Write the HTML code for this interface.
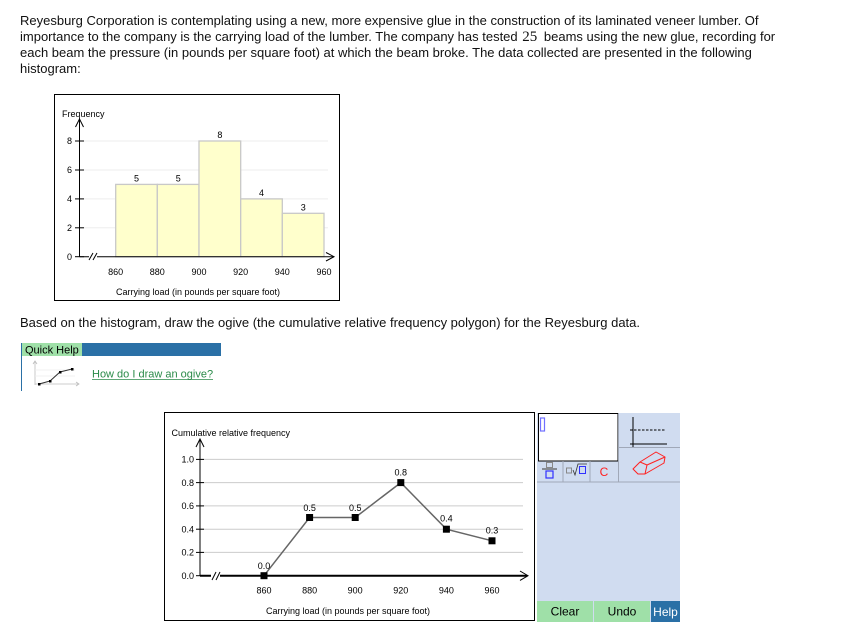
<!DOCTYPE html>
<html><head><meta charset="utf-8"><style>
html,body{margin:0;padding:0;background:#fff;}
body{width:845px;height:628px;position:relative;overflow:hidden;font-family:"Liberation Sans",Arial,sans-serif;}
.p{position:absolute;left:20px;font-size:13px;line-height:16px;color:#111;white-space:nowrap;}
svg{position:absolute;left:0;top:0;}
</style></head><body>
<div class="p" style="top:13px;">Reyesburg Corporation is contemplating using a new, more expensive glue in the construction of its laminated veneer lumber. Of<br>importance to the company is the carrying load of the lumber. The company has tested <span style="font-family:'Liberation Serif',serif;font-size:15px;padding:0 3px 0 1px;">25</span> beams using the new glue, recording for<br>each beam the pressure (in pounds per square foot) at which the beam broke. The data collected are presented in the following<br>histogram:</div>
<div class="p" style="top:315px;">Based on the histogram, draw the ogive (the cumulative relative frequency polygon) for the Reyesburg data.</div>

<svg width="845" height="628" viewBox="0 0 845 628" font-family="Liberation Sans, Arial, sans-serif">
<!-- Histogram -->
<rect x="54.5" y="94.5" width="285" height="206" fill="#fff" stroke="#000" stroke-width="1"/>
<g stroke="#eee" stroke-width="1">
<line x1="80" y1="227.8" x2="328" y2="227.8"/>
<line x1="80" y1="198.9" x2="328" y2="198.9"/>
<line x1="80" y1="170" x2="328" y2="170"/>
<line x1="80" y1="141" x2="328" y2="141"/>
</g>
<g fill="#ffffcc" stroke="#c8c8c8" stroke-width="1.3">
<rect x="115.7" y="184.4" width="41.6" height="72.3"/>
<rect x="157.3" y="184.4" width="41.7" height="72.3"/>
<rect x="199" y="141" width="41.7" height="115.7"/>
<rect x="240.7" y="198.9" width="41.6" height="57.8"/>
<rect x="282.3" y="213.3" width="41.7" height="43.4"/>
</g>
<g stroke="#000" stroke-width="1" fill="none">
<line x1="79.5" y1="119" x2="79.5" y2="257"/>
<polyline points="75.5,127 79.5,119 83.5,127"/>
<line x1="79.5" y1="256.7" x2="334" y2="256.7"/>
<polyline points="326,252.5 334,256.7 326,261"/>
<line x1="75" y1="256.7" x2="84" y2="256.7"/>
<line x1="75" y1="227.8" x2="84" y2="227.8"/>
<line x1="75" y1="198.9" x2="84" y2="198.9"/>
<line x1="75" y1="170" x2="84" y2="170"/>
<line x1="75" y1="141" x2="84" y2="141"/>
</g>
<rect x="89" y="253" width="8" height="7" fill="#fff"/>
<g stroke="#000" stroke-width="1"><line x1="89" y1="260" x2="93" y2="253"/><line x1="93" y1="260" x2="97" y2="253"/></g>
<g font-size="9" fill="#000">
<text x="62" y="117">Frequency</text>
<g text-anchor="end"><text x="72" y="260">0</text><text x="72" y="231">2</text><text x="72" y="202">4</text><text x="72" y="173">6</text><text x="72" y="144">8</text></g>
<g text-anchor="middle">
<text x="136.5" y="181.5">5</text><text x="178.2" y="181.5">5</text><text x="219.9" y="138">8</text><text x="261.5" y="196">4</text><text x="303.2" y="210.5">3</text>
<text x="115.7" y="275">860</text><text x="157.3" y="275">880</text><text x="199" y="275">900</text><text x="240.7" y="275">920</text><text x="282.3" y="275">940</text><text x="324" y="275">960</text>
<text x="198" y="295">Carrying load (in pounds per square foot)</text>
</g>
</g>

<!-- Quick help -->
<line x1="21.5" y1="343" x2="21.5" y2="391" stroke="#2a70a6" stroke-width="1"/>
<rect x="22" y="343" width="60" height="13" fill="#9fe0a8"/>
<rect x="82" y="343" width="139" height="13" fill="#2a70a6"/>
<text x="25" y="353.5" font-size="11" fill="#000">Quick Help</text>
<g stroke="#bbb" stroke-width="0.8" fill="none">
<line x1="35" y1="362" x2="35" y2="385"/><polyline points="33,364 35,361 37,364"/>
<line x1="35" y1="384" x2="78" y2="384"/><polyline points="76,382 79,384 76,386"/>
<line x1="35" y1="370" x2="75" y2="370" stroke="#eee"/><line x1="35" y1="376" x2="75" y2="376" stroke="#eee"/>
</g>
<polyline points="39,384 50,381 60,372 72,369" stroke="#333" stroke-width="1" fill="none"/>
<g fill="#000"><rect x="38" y="383" width="2.5" height="2.5"/><rect x="49" y="380" width="2.5" height="2.5"/><rect x="59" y="371" width="2.5" height="2.5"/><rect x="71" y="368" width="2.5" height="2.5"/></g>
<text x="92" y="377.5" font-size="11" fill="#2a8a48">How do I draw an ogive?</text>
<line x1="92" y1="379.5" x2="213" y2="379.5" stroke="#2a8a48" stroke-width="0.8"/>

<!-- Ogive -->
<rect x="164.5" y="412.5" width="370" height="208" fill="#fff" stroke="#000" stroke-width="1"/>
<g stroke="#ccc" stroke-width="1">
<line x1="200" y1="552.4" x2="523" y2="552.4"/>
<line x1="200" y1="529.2" x2="523" y2="529.2"/>
<line x1="200" y1="505.9" x2="523" y2="505.9"/>
<line x1="200" y1="482.6" x2="523" y2="482.6"/>
<line x1="200" y1="459.4" x2="523" y2="459.4"/>
</g>
<g stroke="#000" stroke-width="1" fill="none">
<line x1="200" y1="439" x2="200" y2="576"/>
<polyline points="196,447 200,439 204,447"/>
<line x1="196" y1="575.7" x2="204" y2="575.7"/>
<line x1="196" y1="552.4" x2="204" y2="552.4"/>
<line x1="196" y1="529.2" x2="204" y2="529.2"/>
<line x1="196" y1="505.9" x2="204" y2="505.9"/>
<line x1="196" y1="482.6" x2="204" y2="482.6"/>
<line x1="196" y1="459.4" x2="204" y2="459.4"/>
<polyline points="520,571 528,575.7 520,580.4"/>
</g>
<line x1="200" y1="575.7" x2="527" y2="575.7" stroke="#000" stroke-width="2"/>
<rect x="211" y="571" width="9" height="9" fill="#fff"/>
<g stroke="#000" stroke-width="1"><line x1="212" y1="580" x2="216" y2="572"/><line x1="216" y1="580" x2="220" y2="572"/></g>
<polyline points="264,575.7 309.6,517.5 355.2,517.5 400.8,482.6 446.4,529.2 492,540.8" fill="none" stroke="#666" stroke-width="1.5"/>
<g fill="#000">
<rect x="260.5" y="572.2" width="7" height="7"/>
<rect x="306.1" y="514" width="7" height="7"/>
<rect x="351.7" y="514" width="7" height="7"/>
<rect x="397.3" y="479.1" width="7" height="7"/>
<rect x="442.9" y="525.7" width="7" height="7"/>
<rect x="488.5" y="537.3" width="7" height="7"/>
</g>
<g font-size="9" fill="#000">
<text x="171.5" y="436">Cumulative relative frequency</text>
<g text-anchor="end"><text x="194" y="579">0.0</text><text x="194" y="555.6">0.2</text><text x="194" y="532.4">0.4</text><text x="194" y="509.1">0.6</text><text x="194" y="485.8">0.8</text><text x="194" y="462.6">1.0</text></g>
<g text-anchor="middle">
<text x="264" y="569">0.0</text><text x="309.6" y="511">0.5</text><text x="355.2" y="511">0.5</text><text x="400.8" y="475.5">0.8</text><text x="446.4" y="521.5">0.4</text><text x="492" y="533.5">0.3</text>
<text x="264" y="593.5">860</text><text x="309.6" y="593.5">880</text><text x="355.2" y="593.5">900</text><text x="400.8" y="593.5">920</text><text x="446.4" y="593.5">940</text><text x="492" y="593.5">960</text>
<text x="348" y="614">Carrying load (in pounds per square foot)</text>
</g>
</g>

<!-- Toolbox -->
<rect x="537" y="413" width="143" height="209" fill="#d0dcf0"/>
<rect x="538.5" y="413.5" width="79.5" height="47.5" fill="#fff" stroke="#000" stroke-width="1"/>
<rect x="540.5" y="418" width="4" height="13" fill="none" stroke="#7070ff" stroke-width="1.2"/>
<g stroke="#a0a8b8" stroke-width="1" fill="none">
<line x1="618.5" y1="413" x2="618.5" y2="482"/>
<line x1="618" y1="447.5" x2="680" y2="447.5"/>
<line x1="537" y1="482" x2="680" y2="482"/>
<line x1="563" y1="461" x2="563" y2="482"/>
<line x1="590" y1="461" x2="590" y2="482"/>
</g>
<g stroke="#000" stroke-width="1">
<line x1="633" y1="417" x2="633" y2="447"/>
<line x1="630" y1="444" x2="667" y2="444"/>
<line x1="630" y1="430" x2="665" y2="430" stroke-dasharray="2.5,1.5"/>
</g>
<g stroke="#ff2020" stroke-width="1" fill="none" stroke-linejoin="round">
<polygon points="638,474 633,469 640,462 656,452 665,457 664,463 645,474"/>
<polyline points="640,462 647,465 665,457"/>
<line x1="647" y1="465" x2="645" y2="474"/>
</g>
<g>
<rect x="546.5" y="462.5" width="6" height="5" fill="none" stroke="#888"/>
<line x1="542" y1="469" x2="557" y2="469" stroke="#555" stroke-width="1.2"/>
<rect x="546" y="471" width="7" height="7" fill="none" stroke="#3030ff" stroke-width="1.2"/>
<rect x="566.5" y="468" width="5" height="5" fill="none" stroke="#888"/>
<polyline points="573,470 575,475 578,464 587,464" fill="none" stroke="#333" stroke-width="0.8"/>
<rect x="579.5" y="466.5" width="6" height="7" fill="none" stroke="#3030ff"/>
<text x="604" y="476" font-size="12" fill="#ff2020" text-anchor="middle">C</text>
</g>
<rect x="537" y="601" width="56" height="21" fill="#9fe0a8"/>
<rect x="594" y="601" width="56" height="21" fill="#9fe0a8"/>
<rect x="651" y="601" width="29" height="21" fill="#2a70a6"/>
<g font-size="12" text-anchor="middle">
<text x="565" y="615.5" fill="#000">Clear</text>
<text x="622" y="615.5" fill="#000">Undo</text>
<text x="665.5" y="616" fill="#fff">Help</text>
</g>
</svg>
</body></html>
